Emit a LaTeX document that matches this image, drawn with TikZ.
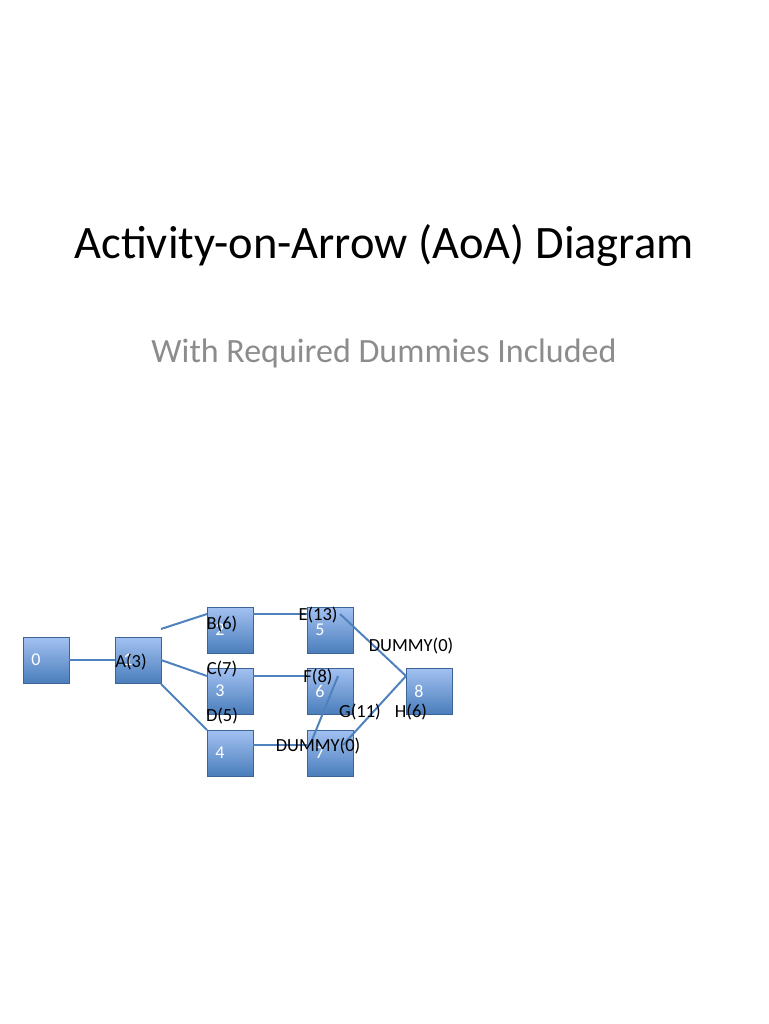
\documentclass[tikz,border=0pt]{standalone}
\usepackage{fontspec}
\setmainfont{Carlito}
\definecolor{boxtop}{HTML}{A3C1F2}
\definecolor{boxbot}{HTML}{4A7EBB}
\definecolor{edgeblue}{HTML}{4F81BD}
\definecolor{subgrey}{HTML}{8C8C8C}
\begin{document}
\begin{tikzpicture}[x=1pt,y=-1pt,
    event/.style={draw=boxbot!80!black,line width=0.5pt,top color=boxtop,bottom color=boxbot,
      minimum size=46pt,inner sep=0pt,text=white,font=\fontsize{18}{20}\selectfont},
    act/.style={font=\fontsize{18.5}{20}\selectfont,inner sep=0pt}]
  \useasboundingbox (0,0) rectangle (768,1024);
  \node at (384,245) {\fontsize{46.5}{54}\selectfont Activity-on-Arrow (AoA) Diagram};
  \node[text=subgrey] at (384,353) {\fontsize{34}{40}\selectfont With Required Dummies Included};
  % events
  \node[event] (0) at (46,660) {\hspace*{-20pt}0};
  \node[event] (1) at (138,660) {\hspace*{-20pt}1};
  \node[event] (2) at (230,630) {\hspace*{-20pt}2};
  \node[event] (5) at (330,630) {\hspace*{-20pt}5};
  \node[event] (3) at (230,691) {\hspace*{-20pt}3};
  \node[event] (6) at (330,691) {\hspace*{-20pt}6};
  \node[event] (4) at (230,753) {\hspace*{-20pt}4};
  \node[event] (7) at (330,753) {\hspace*{-20pt}7};
  \node[event] (8) at (429,691) {\hspace*{-20pt}8};
  \coordinate (a1) at (161,629);
  \coordinate (s2) at (207,614);
  \coordinate (s6) at (338,676);
  \coordinate (s8) at (406,676);
  \begin{scope}[edgeblue,line width=2pt]
    \draw (0.east) -- (1.west);
    \draw (a1) -- (s2);
    \draw (161,660) -- (207,676);
    \draw (161,684) -- (207,730);
    \draw (253,614) -- (307,614);
    \draw (253,676) -- (307,676);
    \draw (253,745) -- (307,745);
    \draw (310,745) -- (s6);
    \draw (340,614) -- (s8);
    \draw (343,745) -- (s8);
  \end{scope}
  % activity labels
  \node[act] (la) at (131,662) {A(3)};
  \node[act] (lb) at (222,624) {B(6)};
  \node[act] (lc) at (222,669) {C(7)};
  \node[act] (ld) at (222,716) {D(5)};
  \node[act] (le) at (318,615) {E(13)};
  \node[act] (lf) at (318,677) {F(8)};
  \node[act] (lg) at (360,712) {G(11)};
  \node[act] (lh) at (411,712) {H(6)};
  \node[act] (ld1) at (411,646) {DUMMY(0)};
  \node[act] (ld2) at (318,746) {DUMMY(0)};
\end{tikzpicture}
\end{document}
